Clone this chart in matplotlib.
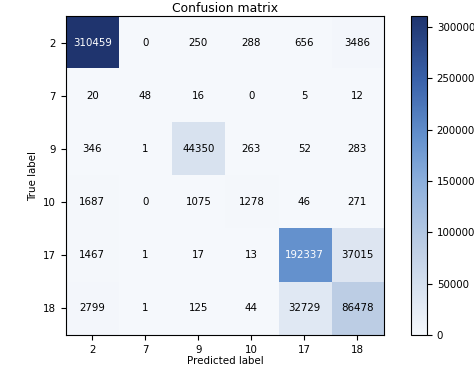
import numpy as np
import matplotlib
matplotlib.use("Agg")
import matplotlib.pyplot as plt
from matplotlib.colors import LinearSegmentedColormap

# class labels
classes = ['2', '7', '9', '10', '17', '18']

# confusion matrix rows (true label)
row_2 = [310459, 0, 250, 288, 656, 3486]
row_7 = [20, 48, 16, 0, 5, 12]
row_9 = [346, 1, 44350, 263, 52, 283]
row_10 = [1687, 0, 1075, 1278, 46, 271]
row_17 = [1467, 1, 17, 13, 192337, 37015]
row_18 = [2799, 1, 125, 44, 32729, 86478]

cm = np.array([row_2, row_7, row_9, row_10, row_17, row_18])

# blue scale as it looks in the original picture
cmap = LinearSegmentedColormap.from_list('muted_blues', [
    (0.00, '#f5f8fc'),
    (0.28, '#bccde4'),
    (0.48, '#8cafdc'),
    (0.62, '#6491cd'),
    (0.80, '#3a62aa'),
    (1.00, '#1f346e'),
])

fs = 7.4
fig = plt.figure(figsize=(4.74, 3.65), dpi=100)
ax = fig.add_axes([0.139, 0.082, 0.671, 0.874])
cax = fig.add_axes([0.867, 0.082, 0.034, 0.874])

im = ax.imshow(cm, interpolation='nearest', cmap=cmap, aspect='auto')
ax.set_title('Confusion matrix', fontsize=8.9, pad=3)
cb = fig.colorbar(im, cax=cax)
cb.set_ticks([0, 50000, 100000, 150000, 200000, 250000, 300000])
cb.ax.tick_params(labelsize=fs)

ticks = np.arange(len(classes))
ax.set_xticks(ticks)
ax.set_xticklabels(classes)
ax.set_yticks(ticks)
ax.set_yticklabels(classes)
ax.tick_params(labelsize=fs)

thresh = cm.max() / 2.
for i in range(cm.shape[0]):
    for j in range(cm.shape[1]):
        ax.text(j, i, format(cm[i, j], 'd'),
                ha='center', va='center', fontsize=fs,
                color='white' if cm[i, j] > thresh else 'black')

ax.set_ylabel('True label', fontsize=fs)
ax.set_xlabel('Predicted label', fontsize=fs, labelpad=1)

plt.savefig('out.png', dpi=100)
